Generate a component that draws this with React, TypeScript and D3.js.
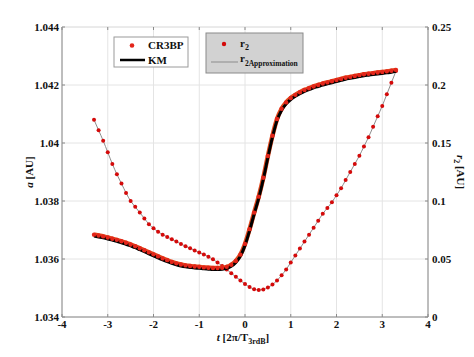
import React from "react";
import * as d3 from "d3";

const tValues = [
  -3.3, -3.2, -3.1, -3.0, -2.9, -2.8, -2.7, -2.6, -2.5, -2.4, -2.3, -2.2, -2.1, -2.0,
  -1.9, -1.8, -1.7, -1.6, -1.5, -1.4, -1.3, -1.2, -1.1, -1.0, -0.9, -0.8, -0.7, -0.6,
  -0.5, -0.4, -0.3, -0.2, -0.1, 0.0, 0.1, 0.2, 0.3, 0.4, 0.5, 0.6, 0.7, 0.8, 0.9, 1.0,
  1.1, 1.2, 1.3, 1.4, 1.5, 1.6, 1.7, 1.8, 1.9, 2.0, 2.1, 2.2, 2.3, 2.4, 2.5, 2.6, 2.7,
  2.8, 2.9, 3.0, 3.1, 3.2, 3.3,
];

const cr3bpA = [
  1.03684, 1.03681, 1.03678, 1.03674, 1.0367, 1.03666, 1.03661, 1.03656, 1.0365, 1.03644,
  1.03637, 1.0363, 1.03623, 1.03616, 1.03609, 1.03602, 1.03596, 1.0359, 1.03585, 1.03581,
  1.03578, 1.03576, 1.03574, 1.03573, 1.03571, 1.0357, 1.03569, 1.03569, 1.0357, 1.03573,
  1.0358, 1.03593, 1.03615, 1.03652, 1.03703, 1.0376, 1.03815, 1.0388, 1.03955, 1.04025,
  1.04083, 1.04118, 1.0414, 1.04155, 1.04166, 1.04175, 1.04183, 1.04189, 1.04195, 1.042,
  1.04205, 1.04209, 1.04213, 1.04217, 1.04221, 1.04225, 1.04228, 1.04231, 1.04234, 1.04237,
  1.04239, 1.04241, 1.04243, 1.04245, 1.04247, 1.04249, 1.04252,
];

const kmA = [
  1.03679, 1.03676, 1.03673, 1.03669, 1.03665, 1.03661, 1.03656, 1.03651, 1.03645, 1.03639,
  1.03632, 1.03625, 1.03618, 1.03611, 1.03604, 1.03597, 1.03591, 1.03585, 1.0358, 1.03576,
  1.03573, 1.03571, 1.03569, 1.03568, 1.03566, 1.03565, 1.03564, 1.03564, 1.03565, 1.03568,
  1.03575, 1.03588, 1.0361, 1.03647, 1.03698, 1.03755, 1.0381, 1.03875, 1.0395, 1.0402,
  1.04078, 1.04113, 1.04135, 1.0415, 1.04161, 1.0417, 1.04178, 1.04184, 1.0419, 1.04195,
  1.042, 1.04204, 1.04208, 1.04212, 1.04216, 1.0422, 1.04223, 1.04226, 1.04229, 1.04232,
  1.04234, 1.04236, 1.04238, 1.0424, 1.04242, 1.04244, 1.04247,
];

const r2Values = [
  0.170, 0.161, 0.152, 0.142, 0.132, 0.123, 0.115, 0.107, 0.100, 0.095, 0.090, 0.085, 0.080,
  0.0765, 0.0735, 0.071, 0.069, 0.067, 0.065, 0.063, 0.061, 0.0592, 0.0574, 0.0556, 0.0538,
  0.052, 0.0497, 0.047, 0.044, 0.041, 0.0378, 0.0346, 0.0315, 0.0285, 0.0258, 0.024, 0.0233,
  0.0238, 0.0255, 0.028, 0.0315, 0.036, 0.041, 0.047, 0.053, 0.059, 0.065, 0.071, 0.077,
  0.083, 0.089, 0.094, 0.099, 0.105, 0.111, 0.118, 0.125, 0.132, 0.139, 0.147, 0.155, 0.164,
  0.173, 0.182, 0.192, 0.202, 0.212,
];

const r2Approx = [
  0.170, 0.161, 0.152, 0.142, 0.132, 0.123, 0.115, 0.107, 0.100, 0.095, 0.090, 0.085, 0.080,
  0.0765, 0.0735, 0.071, 0.069, 0.067, 0.065, 0.063, 0.061, 0.0592, 0.0574, 0.0556, 0.0538,
  0.052, 0.0497, 0.047, 0.044, 0.041, 0.0378, 0.0346, 0.0315, 0.0285, 0.0258, 0.024, 0.0233,
  0.0238, 0.0255, 0.028, 0.0315, 0.036, 0.041, 0.047, 0.053, 0.059, 0.065, 0.071, 0.077,
  0.083, 0.089, 0.094, 0.099, 0.105, 0.111, 0.118, 0.125, 0.132, 0.139, 0.147, 0.155, 0.164,
  0.173, 0.182, 0.192, 0.202, 0.212,
];

const xTicks = [-4, -3, -2, -1, 0, 1, 2, 3, 4];
const yLeftTicks = [1.034, 1.036, 1.038, 1.04, 1.042, 1.044];
const yLeftLabels = ["1.034", "1.036", "1.038", "1.04", "1.042", "1.044"];
const yRightTicks = [0, 0.05, 0.1, 0.15, 0.2, 0.25];
const yRightLabels = ["0", "0.05", "0.1", "0.15", "0.2", "0.25"];

const W = 474;
const H = 357;
const L = 62;
const R = 428;
const T = 27;
const B = 317;

const FONT = "'Liberation Serif', 'Times New Roman', serif";

export default function App() {
  const x = d3.scaleLinear().domain([-4, 4]).range([L, R]);
  const yL = d3.scaleLinear().domain([1.034, 1.044]).range([B, T]);
  const yR = d3.scaleLinear().domain([0, 0.25]).range([B, T]);

  const lineA = d3
    .line<number>()
    .x((_, i) => x(tValues[i]))
    .y((d) => yL(d))
    .curve(d3.curveMonotoneX);
  const lineR = d3
    .line<number>()
    .x((_, i) => x(tValues[i]))
    .y((d) => yR(d))
    .curve(d3.curveMonotoneX);

  const gridColor = "#e4e4e4";
  const axisColor = "#8a8a8a";

  return (
    <div style={{ position: "absolute", left: 0, top: 0 }}>
      <svg width={W} height={H} style={{ display: "block", background: "#fff" }}>
        {/* grid */}
        {xTicks.map((t) => (
          <line key={"gx" + t} x1={x(t)} x2={x(t)} y1={T} y2={B} stroke={gridColor} strokeWidth={1} />
        ))}
        {yLeftTicks.map((v) => (
          <line key={"gy" + v} x1={L} x2={R} y1={yL(v)} y2={yL(v)} stroke={gridColor} strokeWidth={1} />
        ))}
        {/* axes */}
        <line x1={L} x2={L} y1={T} y2={B} stroke={axisColor} strokeWidth={1} />
        <line x1={R} x2={R} y1={T} y2={B} stroke={axisColor} strokeWidth={1} />
        <line x1={L} x2={R} y1={B} y2={B} stroke={axisColor} strokeWidth={1} />
        <line x1={L} x2={R} y1={T} y2={T} stroke={gridColor} strokeWidth={1} />
        {xTicks.map((t) => (
          <g key={"tx" + t}>
            <line x1={x(t)} x2={x(t)} y1={B} y2={B - 3} stroke={axisColor} />
            <line x1={x(t)} x2={x(t)} y1={T} y2={T + 3} stroke={axisColor} />
            <text
              x={x(t)}
              y={B + 11}
              textAnchor="middle"
              fontFamily={FONT}
              fontWeight="bold"
              fontSize={11}
              fill="#111"
            >
              {t}
            </text>
          </g>
        ))}
        {yLeftTicks.map((v, i) => (
          <g key={"tl" + v}>
            <line x1={L} x2={L + 3} y1={yL(v)} y2={yL(v)} stroke={axisColor} />
            <text
              x={L - 3}
              y={yL(v) + 4}
              textAnchor="end"
              fontFamily={FONT}
              fontWeight="bold"
              fontSize={11}
              fill="#111"
            >
              {yLeftLabels[i]}
            </text>
          </g>
        ))}
        {yRightTicks.map((v, i) => (
          <g key={"tr" + v}>
            <line x1={R} x2={R - 3} y1={yR(v)} y2={yR(v)} stroke={axisColor} />
            <text
              x={R + 4}
              y={yR(v) + 4}
              textAnchor="start"
              fontFamily={FONT}
              fontWeight="bold"
              fontSize={11}
              fill="#111"
            >
              {yRightLabels[i]}
            </text>
          </g>
        ))}

        {/* r2 approximation line and r2 dots */}
        <path d={lineR(r2Approx) || ""} fill="none" stroke="#8c8c8c" strokeWidth={1} />
        {r2Values.map((v, i) => (
          <circle key={"r2" + i} cx={x(tValues[i])} cy={yR(v)} r={2} fill="#d40a0a" />
        ))}

        {/* CR3BP band and KM line */}
        <path d={lineA(cr3bpA) || ""} fill="none" stroke="#e2481c" strokeWidth={4.5} strokeLinejoin="round" />
        <path d={lineA(kmA) || ""} fill="none" stroke="#000" strokeWidth={3} strokeLinejoin="round" />
        {cr3bpA.map((v, i) => (
          <circle key={"a" + i} cx={x(tValues[i])} cy={yL(v)} r={2.2} fill="#e3251a" />
        ))}

        {/* legend 1 */}
        <rect x={114} y={37} width={74} height={30} fill="#fff" stroke="#9a9a9a" strokeWidth={1} />
        <circle cx={132} cy={45.5} r={2.3} fill="#e3251a" />
        <text x={148} y={49} fontFamily={FONT} fontWeight="bold" fontSize={11} fill="#111">
          CR3BP
        </text>
        <line x1={120} x2={145} y1={60} y2={60} stroke="#000" strokeWidth={2.5} />
        <text x={148} y={64} fontFamily={FONT} fontWeight="bold" fontSize={11} fill="#111">
          KM
        </text>

        {/* legend 2 */}
        <rect x={206} y={33} width={97} height={40} fill="#d2d2d2" stroke="#8a8a8a" strokeWidth={1} />
        <circle cx={224} cy={44} r={2.2} fill="#d40a0a" />
        <text x={240} y={47} fontFamily={FONT} fontWeight="bold" fontSize={11} fill="#111">
          r
          <tspan fontSize={8} dy={3}>
            2
          </tspan>
        </text>
        <line x1={211} x2={238} y1={62} y2={62} stroke="#8c8c8c" strokeWidth={1} />
        <text x={240} y={62} fontFamily={FONT} fontWeight="bold" fontSize={11} fill="#111">
          r
          <tspan fontSize={7.5} dy={4}>
            2Approximation
          </tspan>
        </text>

        {/* axis labels */}
        <text
          x={243}
          y={341}
          textAnchor="middle"
          fontFamily={FONT}
          fontWeight="bold"
          fontSize={11}
          fill="#111"
        >
          <tspan fontStyle="italic">t</tspan>
          <tspan> [2π/T</tspan>
          <tspan fontSize={8} dy={3}>
            3rdB
          </tspan>
          <tspan dy={-3}>]</tspan>
        </text>
        <text
          transform={`translate(33,${(T + B) / 2}) rotate(-90)`}
          textAnchor="middle"
          fontFamily={FONT}
          fontWeight="bold"
          fontSize={11}
          fill="#111"
        >
          <tspan fontStyle="italic">a</tspan>
          <tspan> [AU]</tspan>
        </text>
        <text
          transform={`translate(457,${(T + B) / 2}) rotate(90)`}
          textAnchor="middle"
          fontFamily={FONT}
          fontWeight="bold"
          fontSize={11}
          fill="#111"
        >
          <tspan fontStyle="italic">r</tspan>
          <tspan fontSize={8} dy={3}>
            2
          </tspan>
          <tspan dy={-3}> [AU]</tspan>
        </text>
      </svg>
    </div>
  );
}
